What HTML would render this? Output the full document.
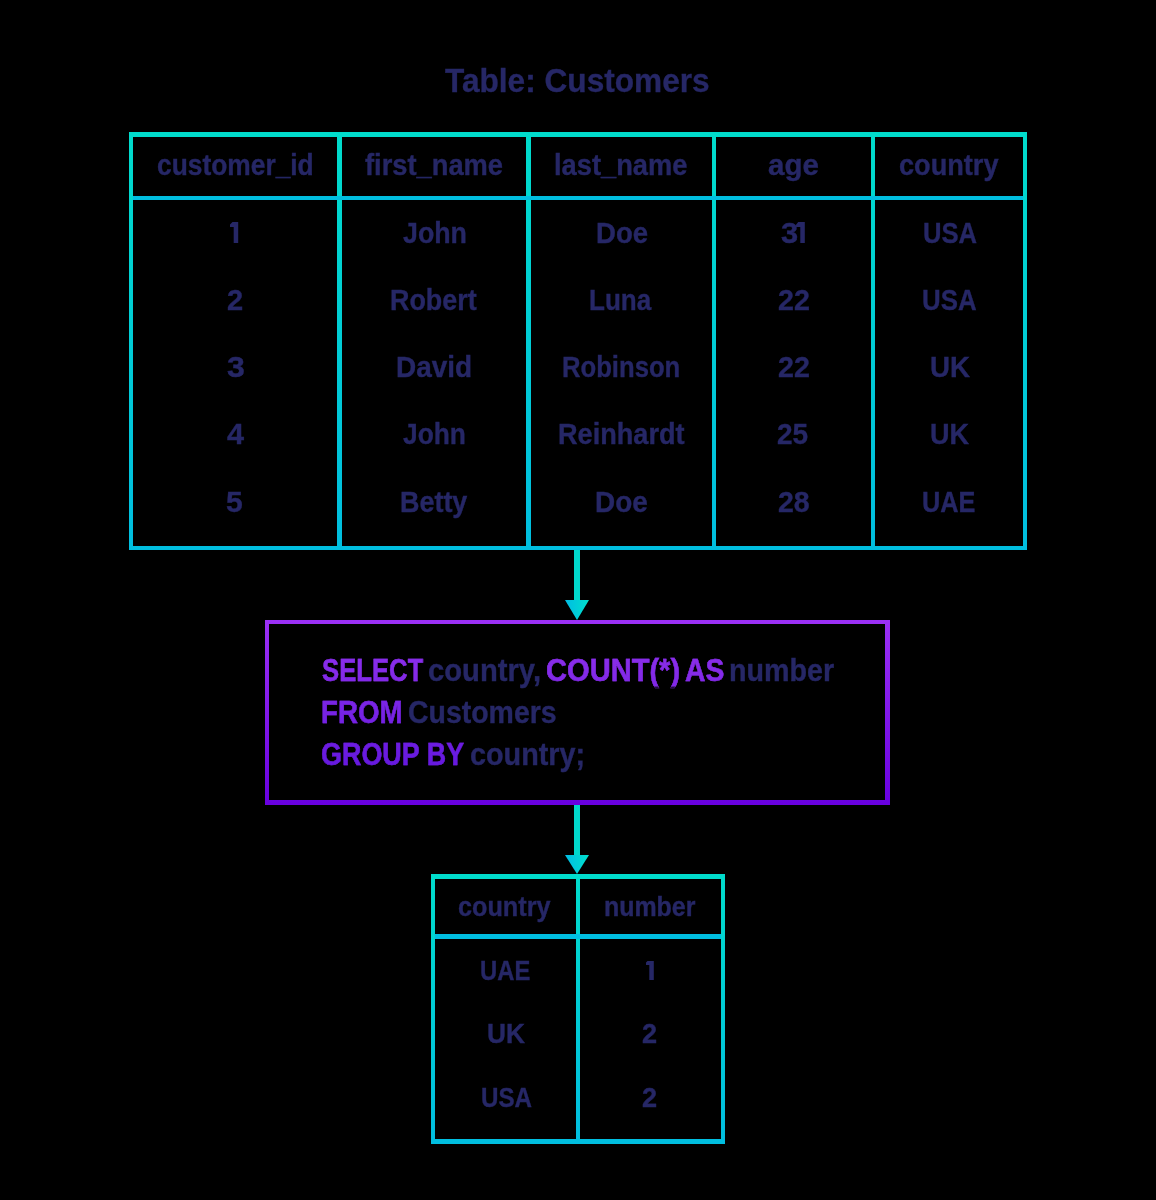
<!DOCTYPE html>
<html><head><meta charset="utf-8">
<style>
html,body{margin:0;padding:0;background:#000;width:1156px;height:1200px;overflow:hidden}
body{position:relative;font-family:"Liberation Sans",sans-serif;font-weight:bold}
svg{position:absolute;left:0;top:0}
.w{position:absolute;white-space:nowrap}
.n{color:#262766;-webkit-text-stroke:0.35px #262766}
.k{color:transparent;-webkit-background-clip:text;background-clip:text}

</style></head><body>
<svg width="1156" height="1200" viewBox="0 0 1156 1200">
<defs>
<linearGradient id="gv" x1="0" y1="132" x2="0" y2="550" gradientUnits="userSpaceOnUse">
<stop offset="0" stop-color="#00DCCC"/><stop offset="1" stop-color="#00BEE0"/>
</linearGradient>
<linearGradient id="gv2" x1="0" y1="874" x2="0" y2="1143" gradientUnits="userSpaceOnUse">
<stop offset="0" stop-color="#00DCCC"/><stop offset="1" stop-color="#00BEE0"/>
</linearGradient>
<linearGradient id="gp" x1="0" y1="620" x2="0" y2="805" gradientUnits="userSpaceOnUse">
<stop offset="0" stop-color="#9B30F5"/><stop offset="1" stop-color="#6800E0"/>
</linearGradient>
<linearGradient id="ga" x1="0" y1="0" x2="1" y2="0">
<stop offset="0" stop-color="#00BCE4"/><stop offset="1" stop-color="#00E0CC"/>
</linearGradient>
</defs>
<!-- top table -->
<g fill="url(#gv)">
<rect x="129" y="132" width="4" height="418"/>
<rect x="1023" y="132" width="4" height="418"/>
<rect x="337" y="132" width="5" height="418"/>
<rect x="526" y="132" width="5" height="418"/>
<rect x="712" y="132" width="4" height="418"/>
<rect x="871" y="132" width="4" height="418"/>
</g>
<rect x="129" y="132" width="898" height="5" fill="#00DCCC"/>
<rect x="133" y="196" width="890" height="4" fill="#00BEE0"/>
<rect x="129" y="546" width="898" height="4" fill="#00BEE0"/>
<!-- arrow 1 -->
<rect x="574" y="550" width="6" height="52" fill="#00D8CC"/>
<polygon points="565,600 589,600 577,620" fill="url(#ga)"/>
<!-- sql box -->
<g fill="url(#gp)">
<rect x="265" y="620" width="625" height="4"/>
<rect x="265" y="800" width="625" height="5"/>
<rect x="265" y="620" width="4" height="185"/>
<rect x="885" y="620" width="5" height="185"/>
</g>
<!-- arrow 2 -->
<rect x="574" y="805" width="6" height="52" fill="#00D8CC"/>
<polygon points="565,855 589,855 577,874" fill="url(#ga)"/>
<!-- bottom table -->
<g fill="url(#gv2)">
<rect x="431" y="874" width="4" height="269"/>
<rect x="721" y="874" width="4" height="269"/>
<rect x="576" y="874" width="4" height="269"/>
</g>
<rect x="431" y="874" width="294" height="5" fill="#00DCCC"/>
<rect x="435" y="934" width="286" height="5" fill="#00BEE0"/>
<rect x="431" y="1139" width="294" height="5" fill="#00BEE0"/>
<g fill="#262766">
<polygon points="232.5,222 238.2,222 238.2,243 233.7,243 233.7,227 230,227 230,224.5"/>
<polygon points="798.2,222 804.8,222 804.8,243 800.3,243 800.3,227 795.5,227 795.5,225.5"/>
<polygon points="647.5,961 653.8,961 653.8,980 649.3,980 649.3,965 646,965 646,962.5"/>
</g>
</svg>
<div class="w n" style="left:444.51px;top:65.80px;font-size:31.5px;line-height:31.5px;transform-origin:0 26px;transform:scale(1.0033,1.07);">Table: Customers</div>
<div class="w n" style="left:157.09px;top:152.60px;font-size:26px;line-height:26px;transform-origin:0 22px;transform:scale(1.0137,1.1);">customer_id</div>
<div class="w n" style="left:364.64px;top:152.60px;font-size:26px;line-height:26px;transform-origin:0 22px;transform:scale(1.0495,1.1);">first_name</div>
<div class="w n" style="left:553.88px;top:152.60px;font-size:26px;line-height:26px;transform-origin:0 22px;transform:scale(1.0491,1.1);">last_name</div>
<div class="w n" style="left:768.07px;top:152.60px;font-size:26px;line-height:26px;transform-origin:0 22px;transform:scale(1.1335,1.1);">age</div>
<div class="w n" style="left:899.02px;top:152.60px;font-size:26px;line-height:26px;transform-origin:0 22px;transform:scale(1.0436,1.1);">country</div>
<div class="w n" style="left:403.10px;top:221.00px;font-size:26.5px;line-height:26.5px;transform-origin:0 22px;transform:scale(1.0099,1.13);">John</div>
<div class="w n" style="left:595.56px;top:221.00px;font-size:26.5px;line-height:26.5px;transform-origin:0 22px;transform:scale(1.0394,1.13);">Doe</div>
<div class="w n" style="left:781.22px;top:221.00px;font-size:26.5px;line-height:26.5px;transform-origin:0 22px;transform:scale(1.1648,1.13);">3</div>
<div class="w n" style="left:922.90px;top:221.00px;font-size:26.5px;line-height:26.5px;transform-origin:0 22px;transform:scale(0.9662,1.13);">USA</div>
<div class="w n" style="left:227.23px;top:288.20px;font-size:26.5px;line-height:26.5px;transform-origin:0 22px;transform:scale(1.0980,1.13);">2</div>
<div class="w n" style="left:390.06px;top:288.20px;font-size:26.5px;line-height:26.5px;transform-origin:0 22px;transform:scale(1.0149,1.13);">Robert</div>
<div class="w n" style="left:589.15px;top:288.20px;font-size:26.5px;line-height:26.5px;transform-origin:0 22px;transform:scale(0.9821,1.13);">Luna</div>
<div class="w n" style="left:777.89px;top:288.20px;font-size:26.5px;line-height:26.5px;transform-origin:0 22px;transform:scale(1.0802,1.13);">22</div>
<div class="w n" style="left:921.83px;top:288.20px;font-size:26.5px;line-height:26.5px;transform-origin:0 22px;transform:scale(0.9747,1.13);">USA</div>
<div class="w n" style="left:226.64px;top:355.40px;font-size:26.5px;line-height:26.5px;transform-origin:0 22px;transform:scale(1.2114,1.13);">3</div>
<div class="w n" style="left:395.93px;top:355.40px;font-size:26.5px;line-height:26.5px;transform-origin:0 22px;transform:scale(1.0552,1.13);">David</div>
<div class="w n" style="left:562.39px;top:355.40px;font-size:26.5px;line-height:26.5px;transform-origin:0 22px;transform:scale(0.9682,1.13);">Robinson</div>
<div class="w n" style="left:777.89px;top:355.40px;font-size:26.5px;line-height:26.5px;transform-origin:0 22px;transform:scale(1.0802,1.13);">22</div>
<div class="w n" style="left:929.72px;top:355.40px;font-size:26.5px;line-height:26.5px;transform-origin:0 22px;transform:scale(1.0450,1.13);">UK</div>
<div class="w n" style="left:226.61px;top:422.40px;font-size:26.5px;line-height:26.5px;transform-origin:0 22px;transform:scale(1.1549,1.13);">4</div>
<div class="w n" style="left:403.21px;top:422.40px;font-size:26.5px;line-height:26.5px;transform-origin:0 22px;transform:scale(0.9929,1.13);">John</div>
<div class="w n" style="left:557.52px;top:422.40px;font-size:26.5px;line-height:26.5px;transform-origin:0 22px;transform:scale(1.0232,1.13);">Reinhardt</div>
<div class="w n" style="left:777.46px;top:422.40px;font-size:26.5px;line-height:26.5px;transform-origin:0 22px;transform:scale(1.0568,1.13);">25</div>
<div class="w n" style="left:929.96px;top:422.40px;font-size:26.5px;line-height:26.5px;transform-origin:0 22px;transform:scale(1.0198,1.13);">UK</div>
<div class="w n" style="left:226.45px;top:489.60px;font-size:26.5px;line-height:26.5px;transform-origin:0 22px;transform:scale(1.1351,1.13);">5</div>
<div class="w n" style="left:399.69px;top:489.60px;font-size:26.5px;line-height:26.5px;transform-origin:0 22px;transform:scale(1.0163,1.13);">Betty</div>
<div class="w n" style="left:594.54px;top:489.60px;font-size:26.5px;line-height:26.5px;transform-origin:0 22px;transform:scale(1.0530,1.13);">Doe</div>
<div class="w n" style="left:777.87px;top:489.60px;font-size:26.5px;line-height:26.5px;transform-origin:0 22px;transform:scale(1.0755,1.13);">28</div>
<div class="w n" style="left:922.10px;top:489.60px;font-size:26.5px;line-height:26.5px;transform-origin:0 22px;transform:scale(0.9545,1.13);">UAE</div>
<div class="w k" style="left:321.80px;top:658.20px;font-size:27.5px;line-height:27.5px;transform-origin:0 23px;transform:scale(0.9340,1.13);background-image:linear-gradient(rgb(138,46,234),rgb(128,40,231));-webkit-text-stroke:0.35px rgb(133,43,232);">SELECT</div>
<div class="w n" style="left:428.10px;top:658.20px;font-size:27.5px;line-height:27.5px;transform-origin:0 23px;transform:scale(1.0618,1.13);">country,</div>
<div class="w k" style="left:546.29px;top:658.20px;font-size:27.5px;line-height:27.5px;transform-origin:0 23px;transform:scale(1.0579,1.13);background-image:linear-gradient(rgb(138,46,234),rgb(128,40,231));-webkit-text-stroke:0.35px rgb(133,43,232);">COUNT(*)</div>
<div class="w k" style="left:684.58px;top:658.20px;font-size:27.5px;line-height:27.5px;transform-origin:0 23px;transform:scale(1.0309,1.13);background-image:linear-gradient(rgb(138,46,234),rgb(128,40,231));-webkit-text-stroke:0.35px rgb(133,43,232);">AS</div>
<div class="w n" style="left:728.91px;top:658.20px;font-size:27.5px;line-height:27.5px;transform-origin:0 23px;transform:scale(1.0421,1.13);">number</div>
<div class="w k" style="left:321.10px;top:699.60px;font-size:27.5px;line-height:27.5px;transform-origin:0 23px;transform:scale(1.0067,1.13);background-image:linear-gradient(rgb(124,38,230),rgb(114,32,226));-webkit-text-stroke:0.35px rgb(119,35,228);">FROM</div>
<div class="w n" style="left:408.40px;top:699.60px;font-size:27.5px;line-height:27.5px;transform-origin:0 23px;transform:scale(1.0346,1.13);">Customers</div>
<div class="w k" style="left:321.16px;top:741.80px;font-size:27.5px;line-height:27.5px;transform-origin:0 23px;transform:scale(0.9789,1.13);background-image:linear-gradient(rgb(110,30,225),rgb(100,24,222));-webkit-text-stroke:0.35px rgb(105,27,223);">GROUP BY</div>
<div class="w n" style="left:470.36px;top:741.80px;font-size:27.5px;line-height:27.5px;transform-origin:0 23px;transform:scale(1.0466,1.13);">country;</div>
<div class="w n" style="left:458.49px;top:895.80px;font-size:24px;line-height:24px;transform-origin:0 20px;transform:scale(1.0508,1.15);">country</div>
<div class="w n" style="left:604.24px;top:895.80px;font-size:24px;line-height:24px;transform-origin:0 20px;transform:scale(1.0387,1.15);">number</div>
<div class="w n" style="left:480.06px;top:960.00px;font-size:24.5px;line-height:24.5px;transform-origin:0 20px;transform:scale(0.9718,1.11);">UAE</div>
<div class="w n" style="left:487.37px;top:1023.40px;font-size:24.5px;line-height:24.5px;transform-origin:0 20px;transform:scale(1.0731,1.11);">UK</div>
<div class="w n" style="left:642.46px;top:1023.40px;font-size:24.5px;line-height:24.5px;transform-origin:0 20px;transform:scale(1.1077,1.11);">2</div>
<div class="w n" style="left:480.97px;top:1087.20px;font-size:24.5px;line-height:24.5px;transform-origin:0 20px;transform:scale(0.9866,1.11);">USA</div>
<div class="w n" style="left:642.46px;top:1087.20px;font-size:24.5px;line-height:24.5px;transform-origin:0 20px;transform:scale(1.1077,1.11);">2</div>
</body></html>
